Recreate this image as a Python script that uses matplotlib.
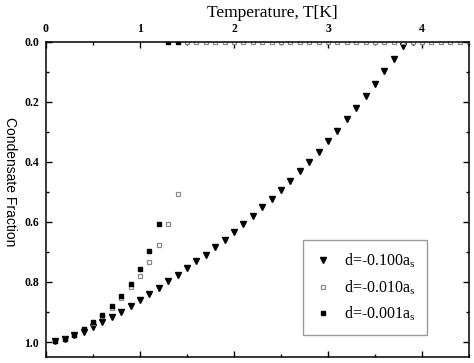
"""Condensate fraction vs temperature, drawn as the reference shows it (x axis on top, y inverted)."""

import matplotlib

matplotlib.use("Agg")

import matplotlib.pyplot as plt  # noqa: E402
from matplotlib.ticker import MultipleLocator  # noqa: E402

plt.rcParams["mathtext.fontset"] = "custom"
plt.rcParams["mathtext.rm"] = "Liberation Serif"
plt.rcParams["mathtext.it"] = "Liberation Serif:italic"

# ── Data ─────────────────────────────────────────────────────────────

T_100 = [0.1, 0.2, 0.3, 0.4, 0.5, 0.6, 0.7, 0.8, 0.9, 1.0,
         1.1, 1.2, 1.3, 1.4, 1.5, 1.6, 1.7, 1.8, 1.9, 2.0,
         2.1, 2.2, 2.3, 2.4, 2.5, 2.6, 2.7, 2.8, 2.9, 3.0,
         3.1, 3.2, 3.3, 3.4, 3.5, 3.6, 3.7, 3.8, 3.9]
F_100 = [0.997, 0.990, 0.978, 0.966, 0.949, 0.934, 0.918, 0.900, 0.879, 0.860,
         0.841, 0.820, 0.798, 0.778, 0.754, 0.731, 0.709, 0.684, 0.660, 0.634,
         0.608, 0.580, 0.551, 0.522, 0.492, 0.462, 0.431, 0.399, 0.366, 0.331,
         0.296, 0.258, 0.220, 0.181, 0.140, 0.098, 0.056, 0.013, 0.000]

T_010 = [0.1, 0.2, 0.3, 0.4, 0.5, 0.6, 0.7, 0.8, 0.9, 1.0,
         1.1, 1.2, 1.3, 1.4, 1.5, 1.6, 1.7, 1.8, 1.9, 2.0,
         2.1, 2.2, 2.3, 2.4, 2.5, 2.6, 2.7, 2.8, 2.9, 3.0,
         3.1, 3.2, 3.3, 3.4, 3.5, 3.6, 3.7, 3.8, 3.9, 4.0,
         4.1, 4.2, 4.3, 4.4, 4.5]
F_010 = [0.998, 0.990, 0.976, 0.958, 0.935, 0.913, 0.886, 0.855, 0.818, 0.779,
         0.732, 0.677, 0.606, 0.508, 0.0, 0.0, 0.0, 0.0, 0.0, 0.0,
         0.0, 0.0, 0.0, 0.0, 0.0, 0.0, 0.0, 0.0, 0.0, 0.0,
         0.0, 0.0, 0.0, 0.0, 0.0, 0.0, 0.0, 0.0, 0.0, 0.0,
         0.0, 0.0, 0.0, 0.0, 0.0]

T_001 = [0.1, 0.2, 0.3, 0.4, 0.5, 0.6, 0.7, 0.8, 0.9, 1.0,
         1.1, 1.2, 1.3, 1.4]
F_001 = [0.998, 0.990, 0.976, 0.958, 0.932, 0.910, 0.880, 0.847, 0.808, 0.758,
         0.697, 0.608, 0.0, 0.0]

LABELS = [r"d=-0.100a$_\mathrm{s}$", r"d=-0.010a$_\mathrm{s}$", r"d=-0.001a$_\mathrm{s}$"]

X_TICKS = [0, 1, 2, 3, 4]
Y_TICKS = [0.0, 0.2, 0.4, 0.6, 0.8, 1.0]

# ── Figure ───────────────────────────────────────────────────────────

fig = plt.figure(figsize=(4.74, 3.63), dpi=100)
ax = fig.add_axes([0.097, 0.0165, 0.8925, 0.868])

tri, = ax.plot(T_100, F_100, linestyle="none", marker="v", markersize=4.6,
               color="black", label=LABELS[0])
opn, = ax.plot(T_010, F_010, linestyle="none", marker="s", markersize=3.2,
               markerfacecolor="white", markeredgecolor="#8a8a8a",
               markeredgewidth=0.9, label=LABELS[1])
fil, = ax.plot(T_001, F_001, linestyle="none", marker="s", markersize=3.2,
               color="black", label=LABELS[2])

ax.set_xlim(0, 4.5)
ax.set_ylim(1.05, 0.0)

ax.xaxis.tick_top()
ax.set_xticks(X_TICKS)
ax.set_yticks(Y_TICKS)
ax.set_xticklabels([str(v) for v in X_TICKS])
ax.set_yticklabels([f"{v:.1f}" for v in Y_TICKS])
ax.xaxis.set_minor_locator(MultipleLocator(0.5))
ax.yaxis.set_minor_locator(MultipleLocator(0.1))

ax.tick_params(which="both", direction="in", top=True, bottom=True,
               left=True, right=True, labeltop=True, labelbottom=False,
               width=1.0, colors="black")
ax.tick_params(which="major", length=4, pad=5)
ax.tick_params(which="minor", length=2.5)
for lab in ax.get_xticklabels() + ax.get_yticklabels():
    lab.set_fontfamily("Liberation Serif")
    lab.set_fontweight("bold")
    lab.set_fontsize(8.5)

for spine in ax.spines.values():
    spine.set_linewidth(1.1)

fig.text(0.574, 0.963, "Temperature, T[K]", ha="center", va="center",
         family="Liberation Serif", fontsize=12.5)
fig.text(0.021, 0.50, "Condensate Fraction", ha="center", va="center",
         rotation=-90, family="Liberation Sans", fontsize=10)

leg = ax.legend(handles=[tri, opn, fil], loc="upper left",
                bbox_to_anchor=(303 / 474, 1 - 240 / 363),
                bbox_transform=fig.transFigure, frameon=True, fancybox=False,
                edgecolor="#9a9a9a", framealpha=1, borderpad=0.75,
                labelspacing=0.5, handlelength=1.0, handletextpad=0.8,
                borderaxespad=0,
                prop={"family": "Liberation Serif", "size": 11.5})
leg.get_frame().set_linewidth(1.0)

fig.savefig("out.png", dpi=100)
